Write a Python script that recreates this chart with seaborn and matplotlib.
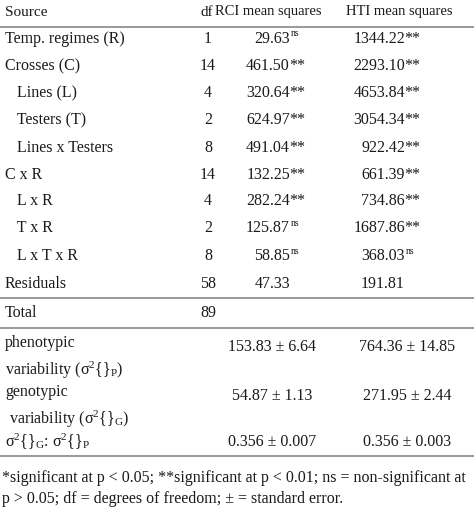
import matplotlib.pyplot as plt
import seaborn as sns

sns.set_theme(style='white')
plt.rcParams['font.family'] = ['Liberation Serif', 'DejaVu Serif']
plt.rcParams['mathtext.fontset'] = 'custom'
plt.rcParams['mathtext.rm'] = 'Liberation Serif'
plt.rcParams['mathtext.it'] = 'Liberation Serif:italic'

# table data
sources = ['Temp. regimes (R)', 'Crosses (C)', '   Lines (L)', '   Testers (T)',
           '   Lines x Testers', 'C x R', '   L x R', '   T x R', '   L x T x R',
           'Residuals', 'Total']
dfs = ['1', '14', '4', '2', '8', '14', '4', '2', '8', '58', '89']
rci = ['29.63', '461.50', '320.64', '624.97', '491.04', '132.25', '282.24',
       '125.87', '58.85', '47.33', '']
rci_sig = ['ns', '**', '**', '**', '**', '**', '**', 'ns', 'ns', '', '']
hti = ['1344.22', '2293.10', '4653.84', '3054.34', '922.42', '661.39', '734.86',
       '1687.86', '368.03', '191.81', '']
hti_sig = ['**', '**', '**', '**', '**', '**', '**', '**', 'ns', '', '']
row_y = [39, 66, 93, 120, 148, 175, 201, 228, 256, 284, 313]

var_labels = ['phenotypic\nvariability (σ$^{2}${}$_{\\mathrm{P}}$)',
              'genotypic\n variability (σ$^{2}${}$_{\\mathrm{G}}$)',
              'σ$^{2}${}$_{\\mathrm{G}}$: σ$^{2}${}$_{\\mathrm{P}}$']
var_rci = ['153.83 ± 6.64', '54.87 ± 1.13', '0.356 ± 0.007']
var_hti = ['764.36 ± 14.85', '271.95 ± 2.44', '0.356 ± 0.003']
var_y = [358, 407, 442]

fig = plt.figure(figsize=(4.74, 5.08), dpi=100)
ax = fig.add_axes([0, 0, 1, 1])
ax.set_xlim(0, 474)
ax.set_ylim(508, 0)
ax.axis('off')

fs = 11.5
c = '#1a1a1a'
ax.text(5, 12, 'Source', fontsize=11, va='center', color=c)
ax.text(207, 12, 'df', fontsize=11, va='center', ha='center', color=c)
ax.text(268, 12, 'RCI mean squares', fontsize=10.5, va='center', ha='center', color=c)
ax.text(399, 12, 'HTI mean squares', fontsize=10.5, va='center', ha='center', color=c)

for s, d, r, rs, h, hs, y in zip(sources, dfs, rci, rci_sig, hti, hti_sig, row_y):
    ax.text(5, y, s, fontsize=fs, va='center', color=c)
    ax.text(208, y, d, fontsize=fs, va='center', ha='center', color=c)
    for val, sig, x in [(r, rs, 290), (h, hs, 405)]:
        ax.text(x, y, val, fontsize=fs, va='center', ha='right', color=c)
        if sig == 'ns':
            ax.text(x + 1, y - 5, sig, fontsize=7, va='center', ha='left', color=c)
        elif sig:
            ax.text(x - 1, y, sig, fontsize=fs, va='center', ha='left', color=c)

for lab, r, h, y in zip(var_labels, var_rci, var_hti, var_y):
    ax.text(5, y, lab, fontsize=fs, va='center', color=c, linespacing=1.6)
    ty = y - 11 if '\n' in lab else y
    ax.text(272, ty, r, fontsize=fs, va='center', ha='center', color=c)
    ax.text(407, ty, h, fontsize=fs, va='center', ha='center', color=c)

ax.text(2, 478, '*significant at p < 0.05; **significant at p < 0.01; ns = non-significant at',
        fontsize=fs, va='center', color=c)
ax.text(2, 499, 'p > 0.05; df = degrees of freedom; ± = standard error.',
        fontsize=fs, va='center', color=c)

for y in [27, 298, 328, 456]:
    ax.axhline(y, color='#888888', lw=1.2)

fig.savefig('out.png', dpi=100)
